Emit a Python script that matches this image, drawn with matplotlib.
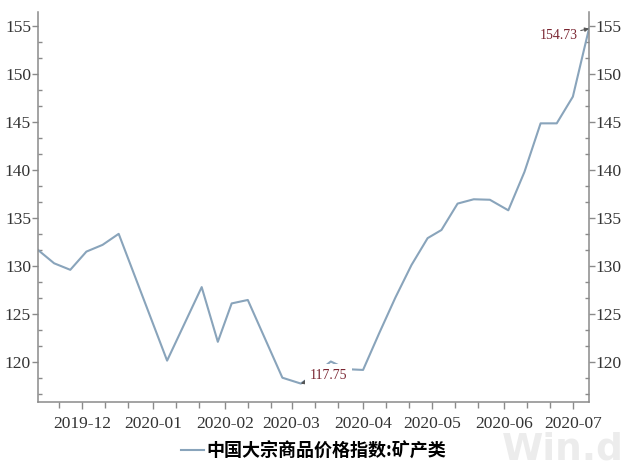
import matplotlib
matplotlib.use("Agg")
import matplotlib.pyplot as plt
import matplotlib.dates as mdates
from matplotlib.ticker import MultipleLocator, FixedLocator
import pandas as pd

# ---- data ----
dates = ["2019-11-12", "2019-11-19", "2019-11-26", "2019-12-03", "2019-12-10", "2019-12-17",
         "2020-01-07", "2020-01-22", "2020-01-29", "2020-02-04", "2020-02-11", "2020-02-26",
         "2020-03-05", "2020-03-12", "2020-03-18", "2020-03-25", "2020-04-01", "2020-04-08",
         "2020-04-15", "2020-04-22", "2020-04-29", "2020-05-05", "2020-05-12", "2020-05-19",
         "2020-05-26", "2020-06-03", "2020-06-10", "2020-06-17", "2020-06-24", "2020-07-01",
         "2020-07-08"]
values = [131.67, 130.28, 129.6, 131.5, 132.2, 133.35,
          120.14, 127.8, 122.1, 126.1, 126.46, 118.36,
          117.75, 118.9, 120.05, 119.25, 119.17, 123.0,
          126.7, 130.1, 132.9, 133.75, 136.5, 136.95,
          136.9, 135.8, 139.8, 144.86, 144.86, 147.64,
          154.73]
series_name = "中国大宗商品价格指数:矿产类"
month_ticks = ["2019-12-01", "2020-01-01", "2020-02-01", "2020-03-01", "2020-04-01",
               "2020-05-01", "2020-06-01", "2020-07-01"]
month_labels = ["2019-12", "2020-01", "2020-02", "2020-03", "2020-04", "2020-05", "2020-06", "2020-07"]
y_ticks = [120, 125, 130, 135, 140, 145, 150, 155]
min_label = "117.75"
max_label = "154.73"

x = pd.to_datetime(dates)
xm = pd.to_datetime(month_ticks)

line_color = "#89a4bb"
spine_color = "#8a8a8a"
text_color = "#333333"
ann_color = "#7a2632"

fig = plt.figure(figsize=(6.4, 4.69), dpi=100)
ax = fig.add_axes([38/640, 1-402/469, (589-38)/640, (402-12)/469])

ax.plot(x, values, color=line_color, lw=1.5, zorder=2, label=series_name)

ax.set_xlim(x[0], x[-1])
ax.set_ylim(115.83, 156.46)

ax.spines["top"].set_visible(False)
for s in ["left", "right", "bottom"]:
    ax.spines[s].set_color(spine_color)
    ax.spines[s].set_linewidth(1.1)

ax.xaxis.set_major_locator(FixedLocator(mdates.date2num(xm)))
ax.set_xticklabels(month_labels)
minor_x = []
for m in pd.date_range("2019-11-01", "2020-07-01", freq="MS"):
    for d in (11, 21):
        minor_x.append(m + pd.Timedelta(days=d-1))
ax.xaxis.set_minor_locator(FixedLocator(mdates.date2num(pd.to_datetime(minor_x))))

ax.yaxis.set_major_locator(FixedLocator(y_ticks))
ax.yaxis.set_minor_locator(MultipleLocator(5/3))

serif = "Liberation Serif"
ax.tick_params(axis="x", which="major", direction="out", length=5, width=1, color=spine_color,
               labelsize=12.5, labelcolor=text_color, pad=5)
ax.tick_params(axis="x", which="minor", direction="out", length=4, width=1, color=spine_color)
ax.tick_params(axis="y", which="major", direction="out", length=4, width=1, color=spine_color,
               labelsize=12.5, labelcolor=text_color, pad=1, left=True, right=True,
               labelleft=True, labelright=True)
ax.tick_params(axis="y", which="minor", direction="in", length=3, width=1, color=spine_color,
               left=True, right=True)
for lab in ax.get_xticklabels() + ax.get_yticklabels():
    lab.set_fontfamily(serif)
for t in ax.yaxis.get_major_ticks():
    t.label2.set_fontfamily(serif)
    t.label2.set_fontsize(12.5)
    t.label2.set_color(text_color)

# annotations
i_min = values.index(min(values))
i_max = values.index(max(values))
ax.annotate(min_label, xy=(x[i_min], values[i_min]), xytext=(9, 8), textcoords="offset pixels",
            ha="left", va="center", fontsize=10, color=ann_color, fontfamily=serif,
            bbox=dict(boxstyle="square,pad=0.35", fc="white", ec="none"),
            arrowprops=dict(arrowstyle="-|>", color="#555555", lw=0.8, shrinkA=0, shrinkB=0,
                            mutation_scale=6),
            zorder=4)
ax.annotate(max_label, xy=(x[i_max], values[i_max]), xytext=(-11, -7), textcoords="offset pixels",
            ha="right", va="center", fontsize=10, color=ann_color, fontfamily=serif,
            arrowprops=dict(arrowstyle="-|>", color="#555555", lw=0.8, shrinkA=0, shrinkB=0,
                            mutation_scale=6),
            zorder=4)

# legend
fig.legend(loc="center", bbox_to_anchor=(0.49, 1-451/469), frameon=False,
           prop=dict(family=["Noto Sans CJK SC", "DejaVu Sans"], weight="bold", size=13),
           handlelength=1.3, handletextpad=0.15)

# watermark
fig.text(563/640, 1-449/469, "Win.d", ha="center", va="center", fontsize=27,
         fontweight="bold", color="#ececec", fontfamily="DejaVu Sans", zorder=0)

fig.savefig("out.png", dpi=100)
